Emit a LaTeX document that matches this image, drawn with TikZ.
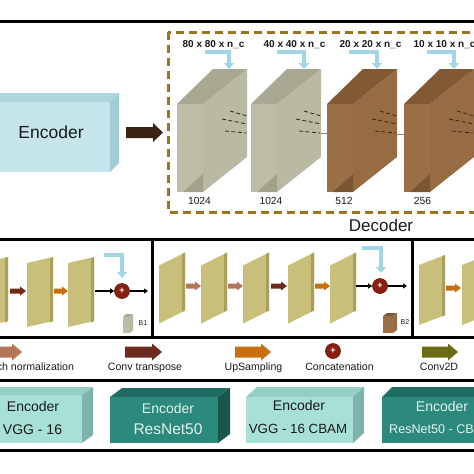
\documentclass[tikz,border=0pt]{standalone}
\usepackage{fontspec}
\setmainfont{Liberation Sans}
\usetikzlibrary{arrows.meta}
\definecolor{encfront}{HTML}{C5E5EB}
\definecolor{enctop}{HTML}{ADD6DE}
\definecolor{encside}{HTML}{A0CCD5}
\definecolor{gfront}{HTML}{BDBCA7}
\definecolor{gtop}{HTML}{A9A892}
\definecolor{gside}{HTML}{BAB9A4}
\definecolor{gnotch}{HTML}{A2A18A}
\definecolor{bfront}{HTML}{9A6F45}
\definecolor{btop}{HTML}{815935}
\definecolor{bside}{HTML}{976C43}
\definecolor{bnotch}{HTML}{7B5431}
\definecolor{dashc}{HTML}{9A7421}
\definecolor{panelc}{HTML}{C8C07A}
\definecolor{panels}{HTML}{A9A15B}
\definecolor{bnorm}{HTML}{B5775A}
\definecolor{convt}{HTML}{6E2A1C}
\definecolor{upsam}{HTML}{C8700F}
\definecolor{conc}{HTML}{8A1F0F}
\definecolor{convtwo}{HTML}{6B6C14}
\definecolor{lblue}{HTML}{A2D6E6}
\definecolor{arrowdark}{HTML}{3B2314}
\definecolor{tealL}{HTML}{A7E0D6}
\definecolor{tealLtop}{HTML}{93CFC5}
\definecolor{tealLside}{HTML}{7DB3AB}
\definecolor{tealD}{HTML}{2B8A7C}
\definecolor{tealDtop}{HTML}{1F6D62}
\definecolor{tealDside}{HTML}{18574E}
\definecolor{textD}{HTML}{E4F2EE}
\definecolor{textK}{HTML}{1A1A1A}

% #1 x1, #2 x2, #3 y, #4 shaft half, #5 head half, #6 head length, #7 colour
\newcommand{\barr}[7]{%
  \fill[#7] (#1,#3-#4) -- (#2-#6,#3-#4) -- (#2-#6,#3-#5) -- (#2,#3) -- (#2-#6,#3+#5) -- (#2-#6,#3+#4) -- (#1,#3+#4) -- cycle;}
% #1 Ax, #2 front, #3 top, #4 side, #5 notch
\newcommand{\bigslab}[5]{%
  \fill[#4] (#1+26,104) -- (#1+70,69) -- (#1+70,157) -- (#1+26,192) -- cycle;
  \fill[#3] (#1,104) -- (#1+36,69) -- (#1+70,69) -- (#1+26,104) -- cycle;
  \fill[#2] (#1,104) rectangle (#1+26,192);
  \fill[#5] (#1+6,192) -- (#1+26,174) -- (#1+26,192) -- cycle;
  \draw[slabdash] (#1+53,111) -- (#1+70,116);
  \draw[slabdash] (#1+45,119) -- (#1+70,124);
  \draw[slabdash] (#1+48,131) -- (#1+69,133);}
% #1 x, #2 yc, #3 H, #4 k
\newcommand{\panelx}[4]{%
  \fill[panelc] (#1,#2-#3+#4) -- (#1+26,#2-#3-#4) -- (#1+26,#2+#3-#4) -- (#1,#2+#3+#4) -- cycle;
  \fill[panels] (#1+23,#2-#3-#4+1.5) -- (#1+26,#2-#3-#4) -- (#1+26,#2+#3-#4) -- (#1+23,#2+#3-#4+1.5) -- cycle;}
% #1 x1, #2 x2, #3 ytop, #4 ybot, #5 dx, #6 dy, #7 front, #8 top, #9 side
\newcommand{\encbox}[9]{%
  \fill[#8] (#1,#3) -- (#1+#5,#3-#6) -- (#2+#5,#3-#6) -- (#2,#3) -- cycle;
  \fill[#9] (#2,#3) -- (#2+#5,#3-#6) -- (#2+#5,#4-#6) -- (#2,#4) -- cycle;
  \fill[#7] (#1,#3) rectangle (#2,#4);}

\begin{document}
\begin{tikzpicture}[x=1pt,y=-1pt,
  frame/.style={line width=3pt, black},
  slabdash/.style={line width=0.8pt, draw=arrowdark, dash pattern=on 4pt off 2.5pt},
  bluearr/.style={line width=3.5pt, lblue, -{Triangle[width=10pt,length=6pt]}},
  blk/.style={line width=1.6pt, black, -{Triangle[width=5pt,length=4pt]}},
  circ/.style={circle, fill=conc, draw=conc!70!black, line width=0.6pt, minimum size=15pt, inner sep=0pt, text=white, font=\bfseries\fontsize{9}{9}\selectfont},
  lab/.style={anchor=base, inner sep=0pt, text=textK},
  toplab/.style={lab, font=\bfseries\fontsize{10}{12}\selectfont},
  numlab/.style={lab, font=\fontsize{10.3}{12}\selectfont},
  leglab/.style={lab, font=\fontsize{10.6}{12}\selectfont},
  enclab/.style={lab, font=\fontsize{14}{16}\selectfont}
]
\useasboundingbox (0,0) rectangle (474,474);
\clip (0,0) rectangle (474,474);
\fill[white] (0,0) rectangle (474,474);

% ---------- top section ----------
\encbox{-10}{110}{102}{172}{9}{9}{encfront}{enctop}{encside}
\node[lab, font=\fontsize{17.5}{20}\selectfont] (enc) at (51,138) {Encoder};
\barr{126}{163}{132.5}{5.5}{9.5}{10}{arrowdark}

\draw[line width=3pt, dashc, dash pattern=on 8pt off 5pt] (168,32) rectangle (490,212);

\bigslab{177}{gfront}{gtop}{gside}{gnotch}
\bigslab{251}{gfront}{gtop}{gside}{gnotch}
\draw[thin, gray] (321,133) -- (327,133);
\bigslab{327}{bfront}{btop}{bside}{bnotch}
\draw[thin, gray] (397,134) -- (404,134);
\bigslab{404}{bfront}{btop}{bside}{bnotch}

\node[toplab] (l1) at (213.5,47) {80 x 80 x n\_c};
\node[toplab] (l2) at (294.5,47) {40 x 40 x n\_c};
\node[toplab] (l3) at (370.5,47) {20 x 20 x n\_c};
\node[toplab] (l4) at (444.5,47) {10 x 10 x n\_c};
\coordinate (s1) at (205,52); \coordinate (t1) at (229,69);
\coordinate (s2) at (277,52); \coordinate (t2) at (304,69);
\coordinate (s3) at (349,52); \coordinate (t3) at (377,69);
\coordinate (s4) at (427,52); \coordinate (t4) at (454,69);
\draw[bluearr] (s1) -| (t1);
\draw[bluearr] (s2) -| (t2);
\draw[bluearr] (s3) -| (t3);
\draw[bluearr] (s4) -| (t4);

\node[numlab] (n1) at (199.5,204) {1024};
\node[numlab] (n2) at (271,204) {1024};
\node[numlab] (n3) at (344,204) {512};
\node[numlab] (n4) at (422.5,204) {256};
\node[lab, font=\fontsize{17}{20}\selectfont] (dec) at (381,231) {Decoder};

% ---------- middle section ----------
% box 1
\panelx{-18}{292}{32}{3}
\panelx{27}{292}{32}{3}
\panelx{68}{292}{32}{3}
\barr{10}{26}{291}{2.5}{4.5}{6}{convt}
\barr{54}{68}{291}{2.5}{4.5}{6}{upsam}
\node[circ] (c1) at (122,291) {+};
\coordinate (pc) at (95,291);
\coordinate (o1) at (148,291);
\draw[blk] (pc) -- (c1);
\draw[blk] (c1) -- (o1);
\coordinate (bs1) at (104,255); \coordinate (bt1) at (122,278);
\draw[bluearr, line width=4pt] (bs1) -| (bt1);
\encbox{123}{130}{317}{333}{3}{3}{gfront}{gtop}{gside}
\node[lab, font=\fontsize{7}{8}\selectfont] (b1) at (143,325) {B1};

% box 2
\panelx{159}{288}{29}{6.5}
\panelx{201}{288}{29}{6.5}
\panelx{243}{288}{29}{6.5}
\panelx{288}{288}{29}{6.5}
\panelx{330}{288}{29}{6.5}
\barr{186}{201}{286}{2.5}{4.5}{6}{bnorm}
\barr{228}{243}{286}{2.5}{4.5}{6}{bnorm}
\barr{271}{287}{286}{2.5}{4.5}{6}{convt}
\barr{315}{330}{286}{2.5}{4.5}{6}{upsam}
\node[circ] (c2) at (380,286) {+};
\coordinate (pd) at (356,286);
\coordinate (o2) at (407,286);
\draw[blk] (pd) -- (c2);
\draw[blk] (c2) -- (o2);
\coordinate (bs2) at (362,248); \coordinate (bt2) at (381,273);
\draw[bluearr, line width=4pt] (bs2) -| (bt2);
\encbox{383}{393}{316}{333}{4}{3}{bfront}{btop}{bside}
\node[lab, font=\fontsize{7}{8}\selectfont] (b2) at (405,324) {B2};

% box 3
\panelx{419}{290}{30}{5}
\panelx{462}{290}{30}{5}
\barr{446}{461}{288}{2.5}{4.5}{6}{upsam}

% ---------- legend ----------
\barr{-15}{22}{352}{5.5}{8.5}{10}{bnorm}
\barr{125}{162}{352}{5.5}{8.5}{10}{convt}
\barr{235}{271}{352}{5.5}{8.5}{10}{upsam}
\barr{422}{458}{352}{5.5}{8.5}{10}{convtwo}
\node[circ] (lc) at (333,351) {+};
\node[leglab] (g1) at (27.5,370) {Batch normalization};
\node[leglab] (g2) at (145,370) {Conv transpose};
\node[leglab] (g3) at (253.5,370) {UpSampling};
\node[leglab] (g4) at (339.5,370) {Concatenation};
\node[leglab] (g5) at (439,370) {Conv2D};

% ---------- bottom encoders ----------
\encbox{-10}{82}{395}{443}{11}{8}{tealL}{tealLtop}{tealLside}
\encbox{110}{218}{397}{443}{12}{9}{tealD}{tealDtop}{tealDside}
\encbox{246}{353}{397}{443}{11}{10}{tealL}{tealLtop}{tealLside}
\encbox{382}{495}{397}{443}{10}{10}{tealD}{tealDtop}{tealDside}
\node[enclab] (e1a) at (33,411.5) {Encoder};
\node[enclab] (e1b) at (32.5,434) {VGG - 16};
\node[enclab, text=textD] (e2a) at (168,413) {Encoder};
\node[enclab, text=textD, font=\fontsize{15.5}{17}\selectfont] (e2b) at (168,434.5) {ResNet50};
\node[enclab] (e3a) at (299,410) {Encoder};
\node[enclab, font=\fontsize{13.3}{15}\selectfont] (e3b) at (298,433) {VGG - 16 CBAM};
\node[enclab, text=textD] (e4a) at (442,411) {Encoder};
\node[enclab, text=textD, font=\fontsize{12.6}{14}\selectfont] (e4b) at (441,433) {ResNet50 - CBAM};

% ---------- frame lines ----------
\draw[frame] (-5,21) -- (480,21);
\draw[frame] (-5,239.5) -- (480,239.5);
\draw[frame] (-5,337.5) -- (480,337.5);
\draw[frame] (-5,380) -- (480,380);
\draw[frame] (-5,450.5) -- (480,450.5);
\draw[frame] (152,239.5) -- (152,337.5);
\draw[frame] (412.5,239.5) -- (412.5,337.5);
\end{tikzpicture}
\end{document}
